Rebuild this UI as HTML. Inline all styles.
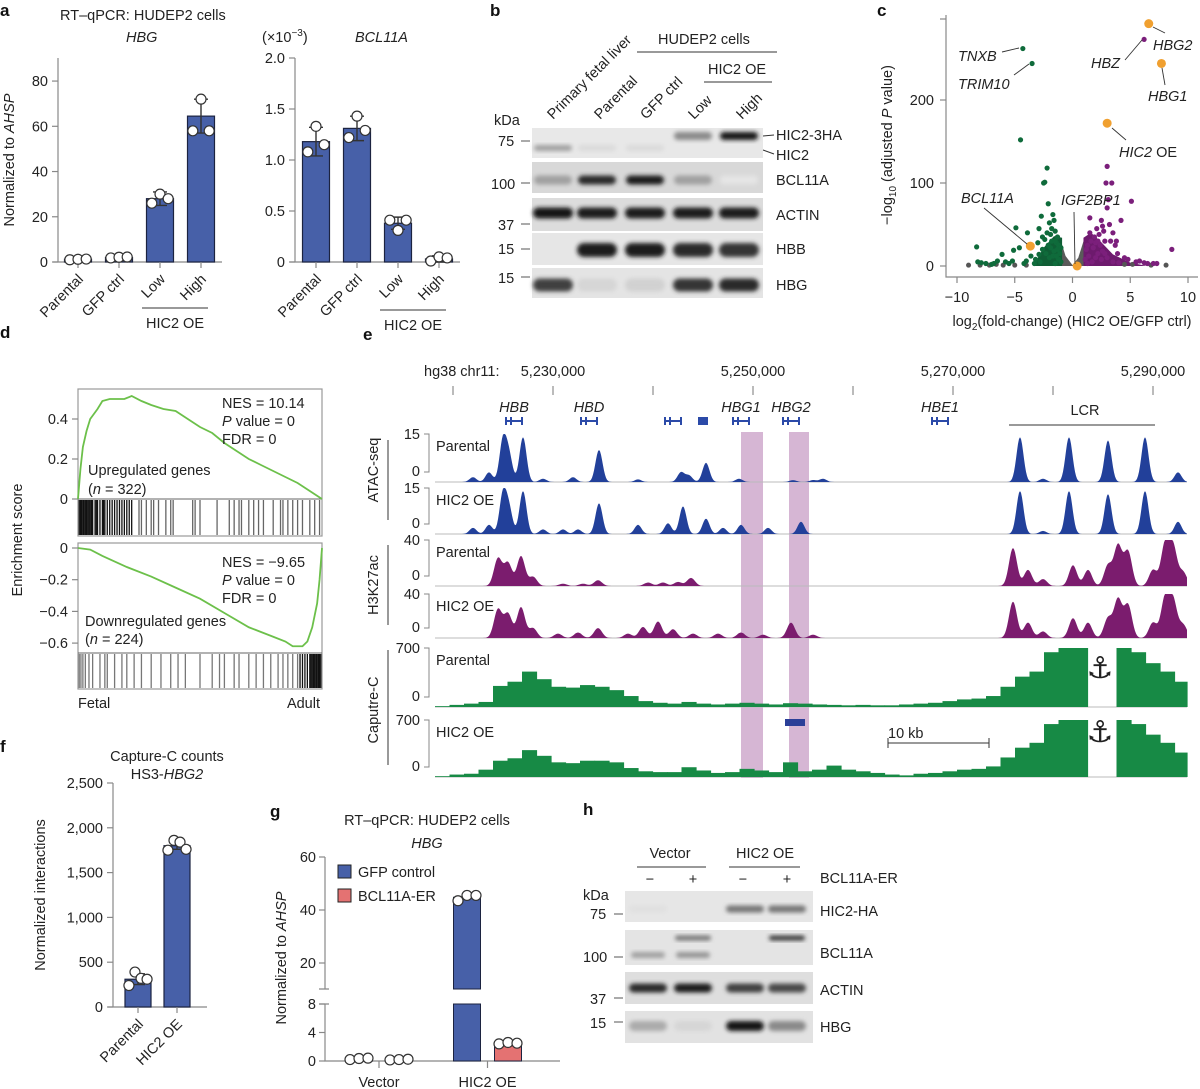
<!DOCTYPE html>
<html><head><meta charset="utf-8">
<style>
html,body{margin:0;padding:0;background:#fff;}
svg{display:block;font-family:"Liberation Sans",Arial,sans-serif;}
.t{font-size:14.5px;fill:#222;}
.s{font-size:14px;fill:#222;}
.b{font-size:17px;font-weight:bold;fill:#111;}
.i{font-style:italic;}
.ax{stroke:#888;stroke-width:1.2;fill:none;}
.tk{stroke:#888;stroke-width:1.2;}
</style></head>
<body>
<svg id="fig" width="1200" height="1089" viewBox="0 0 1200 1089">
<defs>
<filter id="blur" x="-20%" y="-50%" width="140%" height="200%"><feGaussianBlur stdDeviation="2.2"/></filter>
</defs>

<!-- ================= Panel a ================= -->
<g>
<text class="b" x="0" y="16">a</text>
<text class="t" x="60" y="20">RT–qPCR: HUDEP2 cells</text>
<text class="t i" x="126" y="42">HBG</text>
<text class="t i" x="355" y="42">BCL11A</text>
<text class="t" x="262" y="42">(×10<tspan dy="-6" font-size="10">−3</tspan><tspan dy="6">)</tspan></text>
<text class="t" transform="translate(14,160) rotate(-90)" text-anchor="middle">Normalized to <tspan class="i">AHSP</tspan></text>
<g id="a1"></g>
<g id="a2"></g>
</g>

<!-- ================= Panel b ================= -->
<g>
<text class="b" x="490" y="16">b</text>
<text class="t" x="658" y="44">HUDEP2 cells</text>
<line x1="637" y1="52" x2="777" y2="52" stroke="#333"/>
<text class="t" x="708" y="74">HIC2 OE</text>
<line x1="704" y1="82" x2="772" y2="82" stroke="#333"/>
<text class="t" transform="translate(553,120) rotate(-45)">Primary fetal liver</text>
<text class="t" transform="translate(600,120) rotate(-45)">Parental</text>
<text class="t" transform="translate(646,120) rotate(-45)">GFP ctrl</text>
<text class="t" transform="translate(694,120) rotate(-45)">Low</text>
<text class="t" transform="translate(742,120) rotate(-45)">High</text>
<text class="t" x="494" y="125">kDa</text>
<text class="t" x="498" y="146">75</text>
<text class="t" x="491" y="189">100</text>
<text class="t" x="498" y="230">37</text>
<text class="t" x="498" y="254">15</text>
<text class="t" x="498" y="283">15</text>
<g stroke="#555"><line x1="521" y1="141" x2="530" y2="141"/><line x1="521" y1="183" x2="530" y2="183"/><line x1="521" y1="224" x2="530" y2="224"/><line x1="521" y1="249" x2="530" y2="249"/><line x1="521" y1="277" x2="530" y2="277"/></g>
<text class="t" x="776" y="140">HIC2-3HA</text>
<text class="t" x="776" y="160">HIC2</text>
<line x1="763" y1="136" x2="774" y2="135" stroke="#333"/><line x1="763" y1="150" x2="774" y2="154" stroke="#333"/>
<text class="t" x="776" y="185">BCL11A</text>
<text class="t" x="776" y="220">ACTIN</text>
<text class="t" x="776" y="254">HBB</text>
<text class="t" x="776" y="290">HBG</text>
<g id="blotB"></g>
</g>

<!-- ================= Panel c ================= -->
<g>
<text class="b" x="877" y="16">c</text>
<text class="t" transform="translate(892,145) rotate(-90)" text-anchor="middle">−log<tspan font-size="10" dy="4">10</tspan><tspan dy="-4"> (adjusted </tspan><tspan class="i">P</tspan> value)</text>
<text class="t" x="1072" y="326" text-anchor="middle">log<tspan font-size="10" dy="4">2</tspan><tspan dy="-4">(fold-change) (HIC2 OE/GFP ctrl)</tspan></text>
<g id="volc"></g>
<g class="t i">
<text x="958" y="61">TNXB</text>
<text x="958" y="89">TRIM10</text>
<text x="1091" y="68">HBZ</text>
<text x="1153" y="50">HBG2</text>
<text x="1148" y="101">HBG1</text>
<text x="1119" y="157">HIC2<tspan font-style="normal"> OE</tspan></text>
<text x="961" y="203">BCL11A</text>
<text x="1061" y="205">IGF2BP1</text>
</g>
<g stroke="#333" stroke-width="0.9">
<line x1="1002" y1="52" x2="1019" y2="48"/><line x1="1014" y1="75" x2="1029" y2="64"/>
<line x1="1125" y1="60" x2="1142" y2="40"/><line x1="1153" y1="27" x2="1165" y2="33"/>
<line x1="1162" y1="68" x2="1165" y2="85"/><line x1="1112" y1="128" x2="1126" y2="140"/>
<line x1="984" y1="208" x2="1027" y2="244"/><line x1="1074" y1="212" x2="1075" y2="264"/>
</g>
</g>

<!-- ================= Panel d ================= -->
<g>
<text class="b" x="0" y="338">d</text>
<text class="t" transform="translate(22,540) rotate(-90)" text-anchor="middle">Enrichment score</text>
<g id="gsea"></g>
<text class="t" x="222" y="408">NES = 10.14</text>
<text class="t" x="222" y="426"><tspan class="i">P</tspan> value = 0</text>
<text class="t" x="222" y="444">FDR = 0</text>
<text class="t" x="88" y="475">Upregulated genes</text>
<text class="t" x="88" y="494">(<tspan class="i">n</tspan> = 322)</text>
<text class="t" x="222" y="567">NES = −9.65</text>
<text class="t" x="222" y="585"><tspan class="i">P</tspan> value = 0</text>
<text class="t" x="222" y="603">FDR = 0</text>
<text class="t" x="85" y="626">Downregulated genes</text>
<text class="t" x="85" y="644">(<tspan class="i">n</tspan> = 224)</text>
<text class="t" x="78" y="708">Fetal</text>
<text class="t" x="320" y="708" text-anchor="end">Adult</text>
</g>

<!-- ================= Panel e ================= -->
<g>
<text class="b" x="363" y="340">e</text>
<text class="t" x="424" y="376">hg38 chr11:</text>
<g id="trk"></g>
<text class="t" x="1085" y="415" text-anchor="middle">LCR</text>
<line x1="1009" y1="425" x2="1155" y2="425" stroke="#333"/>
<text class="t" transform="translate(378,470) rotate(-90)" text-anchor="middle">ATAC-seq</text>
<line x1="388" y1="440" x2="388" y2="520" stroke="#333"/>
<text class="t" transform="translate(378,585) rotate(-90)" text-anchor="middle">H3K27ac</text>
<line x1="388" y1="545" x2="388" y2="625" stroke="#333"/>
<text class="t" transform="translate(378,710) rotate(-90)" text-anchor="middle">Caputre-C</text>
<line x1="388" y1="650" x2="388" y2="765" stroke="#333"/>
<text class="t" x="888" y="738">10 kb</text>
<g stroke="#333"><line x1="888" y1="743" x2="989" y2="743"/><line x1="888" y1="738" x2="888" y2="748"/><line x1="989" y1="738" x2="989" y2="748"/></g>
<text x="1100" y="678" font-size="30" text-anchor="middle" fill="#222">&#x2693;&#xFE0E;</text>
<text x="1100" y="742" font-size="30" text-anchor="middle" fill="#222">&#x2693;&#xFE0E;</text>
<rect x="785" y="719" width="20" height="7" fill="#2b3f98"/>
</g>

<!-- ================= Panel f ================= -->
<g>
<text class="b" x="0" y="752">f</text>
<text class="t" x="167" y="761" text-anchor="middle">Capture-C counts</text>
<text class="t" x="167" y="779" text-anchor="middle">HS3-<tspan class="i">HBG2</tspan></text>
<text class="t" transform="translate(45,895) rotate(-90)" text-anchor="middle">Normalized interactions</text>
<g id="fchart"></g>
</g>

<!-- ================= Panel g ================= -->
<g>
<text class="b" x="270" y="817">g</text>
<text class="t" x="427" y="825" text-anchor="middle">RT–qPCR: HUDEP2 cells</text>
<text class="t i" x="427" y="848" text-anchor="middle">HBG</text>
<text class="t" transform="translate(286,958) rotate(-90)" text-anchor="middle">Normalized to <tspan class="i">AHSP</tspan></text>
<g id="gchart"></g>
<rect x="338" y="865" width="13" height="13" fill="#4760a8" stroke="#222"/>
<text class="t" x="358" y="877">GFP control</text>
<rect x="338" y="889" width="13" height="13" fill="#e47272" stroke="#222"/>
<text class="t" x="358" y="901">BCL11A-ER</text>
</g>

<!-- ================= Panel h ================= -->
<g>
<text class="b" x="583" y="815">h</text>
<text class="t" x="670" y="858" text-anchor="middle">Vector</text>
<line x1="637" y1="867" x2="706" y2="867" stroke="#333"/>
<text class="t" x="765" y="858" text-anchor="middle">HIC2 OE</text>
<line x1="729" y1="867" x2="800" y2="867" stroke="#333"/>
<text class="t" x="650" y="884" text-anchor="middle">−</text>
<text class="t" x="693" y="884" text-anchor="middle">+</text>
<text class="t" x="743" y="884" text-anchor="middle">−</text>
<text class="t" x="787" y="884" text-anchor="middle">+</text>
<text class="t" x="820" y="883">BCL11A-ER</text>
<text class="t" x="583" y="900">kDa</text>
<text class="t" x="590" y="919">75</text>
<text class="t" x="583" y="962">100</text>
<text class="t" x="590" y="1004">37</text>
<text class="t" x="590" y="1028">15</text>
<g stroke="#555"><line x1="614" y1="914" x2="623" y2="914"/><line x1="614" y1="957" x2="623" y2="957"/><line x1="614" y1="998" x2="623" y2="998"/><line x1="614" y1="1022" x2="623" y2="1022"/></g>
<text class="t" x="820" y="916">HIC2-HA</text>
<text class="t" x="820" y="958">BCL11A</text>
<text class="t" x="820" y="995">ACTIN</text>
<text class="t" x="820" y="1032">HBG</text>
<g id="blotH"></g>
</g>
</svg>

<script>
// ---------- DATA ----------
// Panel a
const aCats = ['Parental', 'GFP ctrl', 'Low', 'High'];
const hbgMeans = [1.2, 2.0, 28, 64.5];
const hbgErr = [0.4, 0.5, 3, 7.5];
const hbgReps = [[1.0, 1.2, 1.3], [1.8, 2.1, 2.2], [26, 30, 28], [58, 72, 58]];
const hbgTicks = [0, 20, 40, 60, 80];
const bclMeans = [1.18, 1.31, 0.38, 0.03];
const bclErr = [0.14, 0.12, 0.06, 0.03];
const bclReps = [[1.08, 1.33, 1.15], [1.22, 1.43, 1.29], [0.41, 0.31, 0.41], [0.01, 0.05, 0.04]];
const bclTicks = [0, 0.5, 1.0, 1.5, 2.0];
// Panel c
const volcGray = [[-9,1],[-8,1],[-7.2,1],[-6,1],[-5,1],[-4,1],[8.1,1],[5.2,2],[4.5,2],[-6.6,2],[6.8,1]];
const volcGrayDense = [[-3,0],[-1.6,6],[-1,30],[-0.6,12],[0,1],[0.5,10],[1,32],[1.6,10],[4,0]];
const volcGreenDense = [[-3.3,0],[-3,10],[-2.5,22],[-1.6,36],[-0.9,34],[-0.9,0]];
const volcPurpleDense = [[0.95,0],[0.95,34],[1.6,40],[2.4,30],[3.5,14],[5,4],[6.5,0]];
const volcGreen = [[-8.3,23],[-8.2,5],[-7.9,4],[-7.5,3],[-7,2],[-6.5,6],[-6.1,14],[-5.8,5],[-5.2,6],[-5.1,19],[-4.9,46],[-4.5,152],[-4.3,262],[-3.5,244],[-4.2,3],[-4.6,22],[-3.9,40],[-3.6,12],[-3.2,8],[-3.0,28],[-2.9,45],[-2.7,60],[-2.5,100],[-2.4,101],[-2.2,118],[-2.1,75],[-2.0,52],[-1.9,38],[-1.8,30],[-1.7,62],[-1.6,55],[-1.5,42],[-1.4,28],[-1.3,20],[-2.6,20],[-2.3,15],[-2.0,10],[-1.7,12],[-1.2,8],[-1.0,5],[-1.1,15],[-2.8,5],[-3.3,3],[-1.5,3],[-2.1,25],[-1.9,22],[-1.6,18],[-1.4,12],[-1.3,35],[-2.4,32],[-2.2,40],[-1.8,45],[-2.6,35],[-6.8,3],[-5.5,3],[-4.0,6],[-2.9,14],[-1.2,25],[-1.0,22],[-1.5,30]];
const volcPurple = [[1.1,8],[1.2,20],[1.3,25],[1.5,58],[1.4,12],[1.6,30],[1.8,22],[1.9,35],[2.0,28],[2.1,45],[2.2,15],[2.3,38],[2.4,25],[2.5,55],[2.6,18],[2.7,42],[2.8,30],[2.9,100],[3.0,120],[3.1,80],[3.0,70],[3.2,50],[3.3,30],[3.4,100],[3.5,40],[3.7,25],[3.9,15],[4.2,55],[4.5,10],[5.1,78],[5.5,5],[6.2,4],[6.5,3],[7.0,3],[7.3,3],[8.6,20],[2.0,10],[1.7,5],[2.5,8],[3.0,10],[3.5,5],[4.0,4],[1.3,3],[2.8,15],[2.2,30],[1.5,40],[2.6,48],[3.8,30],[4.8,8],[5.8,6],[6.2,273]];
const volcOrange = [[6.6,292],[7.7,244],[3.0,172],[-3.65,24],[0.4,0]];
const volcXTicks = [-10, -5, 0, 5, 10];
const volcYTicks = [0, 100, 200];
// Panel d
const gseaUpX = [0,0.01,0.02,0.035,0.05,0.08,0.1,0.13,0.16,0.19,0.22,0.26,0.3,0.35,0.4,0.45,0.5,0.55,0.6,0.65,0.7,0.75,0.8,0.85,0.9,0.95,1];
const gseaUpY = [0,0.15,0.26,0.34,0.4,0.45,0.49,0.5,0.5,0.5,0.515,0.49,0.47,0.45,0.44,0.4,0.36,0.33,0.28,0.24,0.2,0.17,0.14,0.11,0.08,0.04,0];
const gseaDnX = [0,0.05,0.1,0.2,0.3,0.4,0.5,0.6,0.7,0.75,0.8,0.85,0.88,0.92,0.94,0.96,0.98,0.99,1];
const gseaDnY = [0,-0.01,-0.05,-0.12,-0.18,-0.25,-0.32,-0.41,-0.5,-0.53,-0.56,-0.59,-0.62,-0.62,-0.59,-0.5,-0.35,-0.2,0];
const upHits = [0.005,0.01,0.015,0.02,0.025,0.03,0.035,0.04,0.045,0.05,0.055,0.06,0.07,0.075,0.08,0.09,0.1,0.105,0.11,0.12,0.13,0.14,0.15,0.16,0.17,0.18,0.19,0.2,0.21,0.22,0.25,0.26,0.28,0.3,0.31,0.33,0.36,0.38,0.39,0.47,0.48,0.5,0.57,0.62,0.64,0.66,0.67,0.7,0.72,0.74,0.76,0.8,0.83,0.84,0.86,0.88,0.9,0.92,0.95,0.97,0.99];
const dnHits = [0.005,0.012,0.02,0.03,0.045,0.06,0.09,0.11,0.12,0.15,0.18,0.2,0.23,0.26,0.3,0.34,0.38,0.41,0.44,0.5,0.55,0.58,0.6,0.64,0.66,0.7,0.73,0.76,0.79,0.82,0.84,0.86,0.88,0.9,0.91,0.92,0.93,0.94,0.95,0.955,0.96,0.965,0.97,0.975,0.98,0.985,0.99,0.995];
// Panel e (positions in kb of chr11 5,2xx,xxx)
const coordTicks = [5220,5230,5240,5250,5260,5270,5280,5290];
const coordLabels = ['5,230,000','5,250,000','5,270,000','5,290,000'];
const coordLabelPos = [5230,5250,5270,5290];
const genes = [['HBB',5226.1],['HBD',5233.6],['',5242],['',5245],['HBG1',5248.8],['HBG2',5253.8],['HBE1',5268.7]];
const highlights = [[5248.8,5251],[5253.6,5255.6]];
const atacParental = [[5222,1.5],[5223.6,3],[5225,13],[5225.6,8],[5227,14],[5229,1],[5232,1.5],[5234.6,10],[5238.5,0.8],[5242.8,3],[5243.6,2],[5245.3,6],[5248.6,1],[5254,0.6],[5256,0.6],[5257,1],[5276.7,14],[5279,1],[5281.6,14],[5285.5,13],[5289.2,14],[5292.5,3]];
const atacHic2 = [[5222,2],[5223.6,3],[5225,13],[5225.6,8],[5227,14],[5229,1.5],[5231,1.5],[5232.5,1.5],[5234.6,10],[5238.5,3],[5241.5,3.5],[5243,9],[5245.3,5],[5247,2],[5248.8,3],[5251.5,2],[5254.8,4],[5276.7,14],[5279,1],[5281.6,14],[5285.5,13],[5289.2,14],[5292.5,4]];
const h3Parental = [[5224.5,24],[5225.5,20],[5226.8,26],[5228,8],[5231,2],[5233,2],[5234.5,5],[5239.5,3],[5241,3],[5242.5,3.5],[5243.8,7],[5276,33],[5277.5,14],[5279,6],[5282,18],[5283.5,14],[5285.5,18],[5286.5,35],[5287.5,30],[5290,14],[5291.2,36],[5292,34],[5293,12]];
const h3Hic2 = [[5224.5,26],[5225.5,22],[5226.8,28],[5228,9],[5230.5,4],[5232.5,5],[5234.5,9],[5237.5,4],[5239,10],[5240.5,15],[5242,8],[5244,4],[5246.5,4],[5248.8,5],[5251,3],[5253.8,14],[5256,3],[5276,33],[5277.5,14],[5279,6],[5282,18],[5283.5,14],[5285.5,18],[5286.5,35],[5287.5,30],[5290,14],[5291.2,36],[5292,34],[5293,12]];
const capBinStart = 5218.2;
const capParental = [10,25,40,60,250,300,420,330,240,230,260,240,200,130,70,50,40,60,40,30,40,50,40,30,45,40,30,25,20,25,20,20,30,40,50,70,90,100,130,240,360,420,650,700,700,0,0,700,650,520,420,300,200];
const capHic2 = [10,30,40,90,200,230,330,260,180,170,200,200,180,110,70,60,60,120,80,50,60,100,80,60,180,70,90,140,90,70,50,30,20,40,50,70,90,100,130,240,360,420,650,700,700,0,0,700,650,520,420,300,200];
// Panel f
const fCats = ['Parental', 'HIC2 OE'];
const fMeans = [310, 1800];
const fErr = [60, 40];
const fReps = [[240, 390, 320, 310], [1750, 1860, 1840, 1760]];
const fTicks = [0, 500, 1000, 1500, 2000, 2500];
const fTickLabels = ['0', '500', '1,000', '1,500', '2,000', '2,500'];
// Panel g
const gGroups = ['Vector', 'HIC2 OE'];
const gGfp = [0.3, 44.8];
const gBcl = [0.2, 2.5];
const gGfpReps = [[0.2, 0.35, 0.4], [43.5, 45.5, 45.5]];
const gBclReps = [[0.15, 0.2, 0.25], [2.4, 2.6, 2.5]];
const gTicksUpper = [20, 40, 60];
const gTicksLower = [0, 4, 8];
// Blots: intensity 0..1 per lane
const blotBHic2Lower = [0.35, 0.08, 0.08, 0, 0];
const blotBHic2Upper = [0, 0, 0, 0.45, 1.0];
const blotBBcl11a = [0.35, 0.9, 0.95, 0.35, 0.03];
const blotBActin = [1, 0.95, 0.95, 0.95, 0.95];
const blotBHbb = [0, 0.95, 0.95, 0.9, 0.85];
const blotBHbg = [0.8, 0.1, 0.12, 0.85, 0.9];
const blotHHic2 = [0.05, 0, 0.55, 0.55];
const blotHBclLow = [0.35, 0.4, 0, 0];
const blotHBclHigh = [0, 0.55, 0, 0.85];
const blotHActin = [0.9, 0.95, 0.8, 0.75];
const blotHHbg = [0.3, 0.1, 1.0, 0.45];

// ---------- HELPERS ----------
const NS = 'http://www.w3.org/2000/svg';
function mk(tag, attrs, parent) {
  const el = document.createElementNS(NS, tag);
  for (const k in attrs) el.setAttribute(k, attrs[k]);
  parent.appendChild(el);
  return el;
}
function lin(d0, d1, r0, r1) { return v => r0 + (v - d0) * (r1 - r0) / (d1 - d0); }

function barChart(g, o) {
  const y = lin(o.dmin, o.dmax, o.y0, o.y1);
  let el = mk('line', {x1:o.ax, y1:o.y1, x2:o.ax, y2:o.y0, class:'ax'}, g);
  
  
  el = mk('line', {x1:o.ax-5, y1:o.y0, x2:o.xend, y2:o.y0, class:'ax'}, g);
  
  
  o.ticks.forEach((t, i) => {
    const ty = y(t);
    let tl = mk('line', {x1:o.ax-6, y1:ty, x2:o.ax, y2:ty, class:'tk'}, g);
    
    
    let tt = mk('text', {x:o.ax-10, y:ty+5, 'text-anchor':'end', class:'t'}, g);
    
    
    tt.textContent = o.tickLabels ? o.tickLabels[i] : (o.fmt ? o.fmt(t) : t);
  });
  o.means.forEach((m, i) => {
    const cx = o.x0 + i * o.step;
    let b = mk('rect', {x:cx-o.bw/2, y:y(m), width:o.bw, height:o.y0-y(m), fill:'#4760a8', stroke:'#1c2340', 'stroke-width':1.2}, g);
    
    
    let tk = mk('line', {x1:cx, y1:o.y0, x2:cx, y2:o.y0+6, class:'tk'}, g);
    
    
    const e = o.err[i];
    let eb = mk('path', {d:`M${cx},${y(m-e)}V${y(m+e)}M${cx-7},${y(m-e)}H${cx+7}M${cx-7},${y(m+e)}H${cx+7}`, stroke:'#333', 'stroke-width':1.4, fill:'none'}, g);
    
    
    o.reps[i].forEach((r, j) => {
      const n = o.reps[i].length;
      const dx = (j - (n-1)/2) * (o.bw/ (n+0.3));
      let c = mk('circle', {cx:cx+dx, cy:y(r), r:5, fill:'#fff', stroke:'#333', 'stroke-width':1.2}, g);
      
      
    });
    let lb = mk('text', {transform:`translate(${cx+6},${o.y0+18}) rotate(-45)`, 'text-anchor':'end', class:'t'}, g);
    
    
    lb.textContent = o.cats[i];
  });
}

barChart(document.getElementById('a1'), {ax:58, y0:262, y1:58, dmin:0, dmax:90.2, xend:222, x0:78, step:41, bw:27, ticks:hbgTicks, means:hbgMeans, err:hbgErr, reps:hbgReps, cats:aCats});
barChart(document.getElementById('a2'), {ax:295, y0:262, y1:58, dmin:0, dmax:2.0, xend:460, x0:316, step:41, bw:27, ticks:bclTicks, means:bclMeans, err:bclErr, reps:bclReps, cats:aCats, fmt:t=>t===0?'0':t.toFixed(1)});
(function(){
  const g = document.getElementById('a1');
  let l = mk('line', {x1:142, y1:308, x2:208, y2:308, stroke:'#333'}, g);
  
  
  let t = mk('text', {x:175, y:328, 'text-anchor':'middle', class:'t'}, g);
  
  
  t.textContent = 'HIC2 OE';
  const g2 = document.getElementById('a2');
  l = mk('line', {x1:380, y1:310, x2:446, y2:310, stroke:'#333'}, g2);
  
  
  t = mk('text', {x:413, y:330, 'text-anchor':'middle', class:'t'}, g2);
  
  
  t.textContent = 'HIC2 OE';
})();

barChart(document.getElementById('fchart'), {ax:113, y0:1007, y1:783, dmin:0, dmax:2500, xend:207, x0:138, step:39, bw:26, ticks:fTicks, tickLabels:fTickLabels, means:fMeans, err:fErr, reps:fReps, cats:fCats});

function blot(g, x0, x1, rows, lanes, name) {
  rows.forEach(r => {
    let bg = mk('rect', {x:x0, y:r.y0, width:x1-x0, height:r.y1-r.y0, fill:r.bg}, g);
    
    
    r.bands.forEach(bd => {
      bd.vals.forEach((v, i) => {
        if (v <= 0) return;
        const gr = Math.round(235 - v * 215);
        let e = mk('rect', {x:lanes[i]-bd.w/2, y:bd.cy-bd.h/2, width:bd.w, height:bd.h, rx:bd.h/2, fill:`rgb(${gr},${gr},${gr})`, filter:'url(#blur)'}, g);
        
        
      });
    });
  });
}
blot(document.getElementById('blotB'), 532, 763, [
  {y0:128, y1:158, bg:'#e8e8e8', bands:[{cy:148, h:6, w:38, vals:blotBHic2Lower}, {cy:136, h:8, w:38, vals:blotBHic2Upper}]},
  {y0:162, y1:193, bg:'#d8d8d8', bands:[{cy:180, h:9, w:38, vals:blotBBcl11a}]},
  {y0:198, y1:231, bg:'#dcdcdc', bands:[{cy:213, h:11, w:40, vals:blotBActin}]},
  {y0:233, y1:265, bg:'#e6e6e6', bands:[{cy:250, h:14, w:40, vals:blotBHbb}]},
  {y0:268, y1:298, bg:'#e4e4e4', bands:[{cy:285, h:13, w:40, vals:blotBHbg}]}
], [553, 597, 645, 693, 739], 'blot-b');
blot(document.getElementById('blotH'), 625, 813, [
  {y0:891, y1:922, bg:'#e6e6e6', bands:[{cy:909, h:7, w:38, vals:blotHHic2}]},
  {y0:930, y1:965, bg:'#e4e4e4', bands:[{cy:955, h:6, w:34, vals:blotHBclLow}, {cy:938, h:5, w:36, vals:blotHBclHigh}]},
  {y0:972, y1:1004, bg:'#dedede', bands:[{cy:988, h:9, w:38, vals:blotHActin}]},
  {y0:1011, y1:1043, bg:'#e2e2e2', bands:[{cy:1026, h:10, w:38, vals:blotHHbg}]}
], [648, 693, 745, 787], 'blot-h');

// Volcano
(function(){
  const g = document.getElementById('volc');
  const x = lin(-10, 10, 957, 1188), y = lin(0, 100, 266, 183);
  let el = mk('path', {d:'M946,15V277H1198', class:'ax'}, g);
  
  
  volcXTicks.forEach(t => {
    let l = mk('line', {x1:x(t), y1:277, x2:x(t), y2:283, class:'tk'}, g);
    
    
    let tx = mk('text', {x:x(t), y:302, 'text-anchor':'middle', class:'t'}, g);
    
    
    tx.textContent = t < 0 ? '−' + (-t) : t;
  });
  volcYTicks.forEach(t => {
    let l = mk('line', {x1:940, y1:y(t), x2:946, y2:y(t), class:'tk'}, g);
    
    
    let tx = mk('text', {x:934, y:y(t)+5, 'text-anchor':'end', class:'t'}, g);
    
    
    tx.textContent = t;
  });
  let l2 = mk('line', {x1:940, y1:y(300)+2, x2:946, y2:y(300)+2, class:'tk'}, g);
  
  
  const poly = (pts, fill, nm) => {
    let p = mk('polygon', {points:pts.map(q => x(q[0]) + ',' + y(q[1])).join(' '), fill:fill}, g);
    
    
  };
  poly(volcGrayDense, '#5a5a5a', 'ns-gene-cloud');
  poly(volcGreenDense, '#0f5e35', 'down-gene-cloud');
  poly(volcPurpleDense, '#6d1a6d', 'up-gene-cloud');
  volcGray.forEach(p => {
    let c = mk('circle', {cx:x(p[0]), cy:y(p[1]), r:2.5, fill:'#555'}, g);
    
    
  });
  volcGreen.forEach(p => {
    let c = mk('circle', {cx:x(p[0]), cy:y(p[1]), r:2.6, fill:'#0f6b3b'}, g);
    
    
  });
  volcPurple.forEach(p => {
    let c = mk('circle', {cx:x(p[0]), cy:y(p[1]), r:2.6, fill:'#7b1f7b'}, g);
    
    
  });
  volcOrange.forEach(p => {
    let c = mk('circle', {cx:x(p[0]), cy:y(p[1]), r:4.5, fill:'#f0a030'}, g);
    
    
  });
})();

// GSEA
(function(){
  const g = document.getElementById('gsea');
  const X = lin(0, 1, 78, 322);
  const yU = lin(0, 0.2, 499, 459), yD = lin(0, -0.2, 548, 579.7);
  const box = (x0,y0,x1,y1,nm) => { let r = mk('rect',{x:x0,y:y0,width:x1-x0,height:y1-y0,fill:'none',stroke:'#999','stroke-width':1.2},g);   };
  box(78,389,322,536,'gsea-up-box');
  box(78,543,322,689,'gsea-down-box');
  let l = mk('line',{x1:78,y1:499,x2:322,y2:499,stroke:'#666'},g);
  
  
  l = mk('line',{x1:78,y1:653,x2:322,y2:653,stroke:'#666'},g);
  
  
  [0,0.2,0.4].forEach(t => {
    let tk = mk('line',{x1:72,y1:yU(t),x2:78,y2:yU(t),class:'tk'},g);
    
    
    let tx = mk('text',{x:68,y:yU(t)+5,'text-anchor':'end',class:'t'},g);
    
    
    tx.textContent = t === 0 ? '0' : t.toFixed(1);
  });
  [0,-0.2,-0.4,-0.6].forEach(t => {
    let tk = mk('line',{x1:72,y1:yD(t),x2:78,y2:yD(t),class:'tk'},g);
    
    
    let tx = mk('text',{x:68,y:yD(t)+5,'text-anchor':'end',class:'t'},g);
    
    
    tx.textContent = t === 0 ? '0' : '−' + (-t).toFixed(1);
  });
  let p = mk('path',{d:gseaUpX.map((v,i)=>(i?'L':'M')+X(v)+','+yU(gseaUpY[i])).join(''),fill:'none',stroke:'#6cc04a','stroke-width':1.8},g);
  
  
  p = mk('path',{d:gseaDnX.map((v,i)=>(i?'L':'M')+X(v)+','+yD(gseaDnY[i])).join(''),fill:'none',stroke:'#6cc04a','stroke-width':1.8},g);
  
  
  upHits.forEach(h => {
    let b = mk('line',{x1:X(h),y1:500,x2:X(h),y2:535,stroke:h<0.25?'#111':'#666','stroke-width':1.3},g);
    
    
  });
  dnHits.forEach(h => {
    let b = mk('line',{x1:X(h),y1:654,x2:X(h),y2:688,stroke:h>0.9?'#111':'#777','stroke-width':1.3},g);
    
    
  });
})();

// Genome tracks
(function(){
  const g = document.getElementById('trk');
  const X = lin(5230, 5240, 553, 653);
  coordTicks.forEach(t => {
    let l = mk('line',{x1:X(t),y1:386,x2:X(t),y2:395,stroke:'#777'},g);
    
    
  });
  coordLabels.forEach((lb,i) => {
    let t = mk('text',{x:X(coordLabelPos[i]),y:376,'text-anchor':'middle',class:'t'},g);
    
    
    t.textContent = lb;
  });
  highlights.forEach(h => {
    let r = mk('rect',{x:X(h[0]),y:432,width:X(h[1])-X(h[0]),height:346,fill:'#d6b6d4'},g);
    
    
  });
  genes.forEach(gn => {
    const cx = X(gn[1]);
    let ic = mk('path',{d:gn[0]===''&&gn[1]>5244?`M${cx-4},418h8v6h-8z`:`M${cx-8},417v8M${cx+8},417v8M${cx-8},421H${cx+8}M${cx-3},417v8`,stroke:'#2b4aa8','stroke-width':2,fill:'#2b4aa8'},g);
    
    
    if (gn[0]) {
      let t = mk('text',{x:cx,y:412,'text-anchor':'middle',class:'t i'},g);
      
      
      t.textContent = gn[0];
    }
  });
  const xs = 435, xe = 1187;
  function peakTrack(peaks, sig, max, top, base, color, label, scaleLabel, nm) {
    const yv = lin(0, max, base, top);
    let d = `M${xs},${base}`;
    for (let px = xs; px <= xe; px += 1) {
      const kb = 5230 + (px - 553) / 10;
      let v = 0;
      peaks.forEach(pk => { const z = (kb - pk[0]) / sig; v += pk[1] * Math.exp(-z*z/2); });
      v = Math.min(v, max);
      d += `L${px},${yv(v).toFixed(1)}`;
    }
    d += `L${xe},${base}Z`;
    let base_ = mk('line',{x1:xs,y1:base,x2:xe,y2:base,stroke:'#bbb'},g);
    
    
    let p = mk('path',{d:d,fill:color},g);
    
    
    scaleBits(top, base, scaleLabel, label, nm);
  }
  function scaleBits(top, base, scaleLabel, label, nm) {
    let br = mk('path',{d:`M424,${top}h5V${base-10}h-5`,stroke:'#888',fill:'none'},g);
    
    
    let t1 = mk('text',{x:420,y:top+5,'text-anchor':'end',class:'t'},g);
    
    
    t1.textContent = scaleLabel;
    let t0 = mk('text',{x:420,y:base-6,'text-anchor':'end',class:'t'},g);
    
    
    t0.textContent = '0';
    let tl = mk('text',{x:436,y:top+17,class:'t'},g);
    
    
    tl.textContent = label;
  }
  peakTrack(atacParental, 0.35, 15, 434, 482, '#22409a', 'Parental', '15', 'atac-parental');
  peakTrack(atacHic2, 0.35, 15, 488, 534, '#22409a', 'HIC2 OE', '15', 'atac-hic2');
  peakTrack(h3Parental, 0.4, 40, 540, 586, '#7b1c6e', 'Parental', '40', 'h3k27ac-parental');
  peakTrack(h3Hic2, 0.4, 40, 594, 638, '#7b1c6e', 'HIC2 OE', '40', 'h3k27ac-hic2');
  function capTrack(vals, top, base, label, nm) {
    const yv = lin(0, 700, base, top);
    const bw = 1.45;
    let bl = mk('line',{x1:xs,y1:base,x2:xe,y2:base,stroke:'#bbb'},g);
    
    
    vals.forEach((v, i) => {
      if (v <= 0) return;
      const x0 = X(capBinStart + i * bw), x1 = Math.min(X(capBinStart + (i+1) * bw), xe);
      let r = mk('rect',{x:x0,y:yv(v),width:x1-x0+0.6,height:base-yv(v),fill:'#178a45'},g);
      
      
    });
    scaleBits(top, base, '700', label, nm);
  }
  capTrack(capParental, 648, 707, 'Parental', 'capture-c-parental');
  capTrack(capHic2, 720, 777, 'HIC2 OE', 'capture-c-hic2');
})();

// Panel g
(function(){
  const g = document.getElementById('gchart');
  const yU = lin(20, 60, 963, 857), yL = lin(0, 8, 1061, 1004);
  const ax = 325;
  let el = mk('path',{d:`M${ax},857V989M${ax},1004V1061H${ax+235}`,class:'ax'},g);
  
  
  el = mk('path',{d:`M${ax-6},989H${ax+4}M${ax-6},1004H${ax+4}`,class:'ax'},g);
  
  
  gTicksUpper.forEach(t => {
    let tk = mk('line',{x1:ax-6,y1:yU(t),x2:ax,y2:yU(t),class:'tk'},g);
    
    
    let tx = mk('text',{x:ax-9,y:yU(t)+5,'text-anchor':'end',class:'t'},g);
    
    
    tx.textContent = t;
  });
  gTicksLower.forEach(t => {
    let tk = mk('line',{x1:ax-6,y1:yL(t),x2:ax,y2:yL(t),class:'tk'},g);
    
    
    let tx = mk('text',{x:ax-9,y:yL(t)+5,'text-anchor':'end',class:'t'},g);
    
    
    tx.textContent = t;
  });
  const centers = [[359, 399], [467, 508]];
  const bw = 27;
  const drawBar = (cx, v, reps, fill, nm) => {
    if (v > 8) {
      let r1 = mk('rect',{x:cx-bw/2,y:yL(8),width:bw,height:1061-yL(8),fill:fill,stroke:'#1c2340'},g);
      
      
      let r2 = mk('rect',{x:cx-bw/2,y:yU(v),width:bw,height:989-yU(v),fill:fill,stroke:'#1c2340'},g);
      
      
    } else {
      let r = mk('rect',{x:cx-bw/2,y:yL(v),width:bw,height:1061-yL(v),fill:fill,stroke:'#1c2340'},g);
      
      
    }
    reps.forEach((rv, j) => {
      const yy = rv > 8 ? yU(rv) : yL(rv);
      let c = mk('circle',{cx:cx+(j-1)*9,cy:yy,r:5,fill:'#fff',stroke:'#333','stroke-width':1.2},g);
      
      
    });
  };
  gGroups.forEach((grp, i) => {
    drawBar(centers[i][0], gGfp[i], gGfpReps[i], '#4760a8', 'bar-gfp-' + i);
    drawBar(centers[i][1], gBcl[i], gBclReps[i], '#e47272', 'bar-bcl11a-er-' + i);
    const mx = (centers[i][0] + centers[i][1]) / 2;
    let tk = mk('line',{x1:mx,y1:1061,x2:mx,y2:1068,class:'tk'},g);
    
    
    let t = mk('text',{x:mx,y:1087,'text-anchor':'middle',class:'t'},g);
    
    
    t.textContent = grp;
  });
})();
</script>
</body></html>
